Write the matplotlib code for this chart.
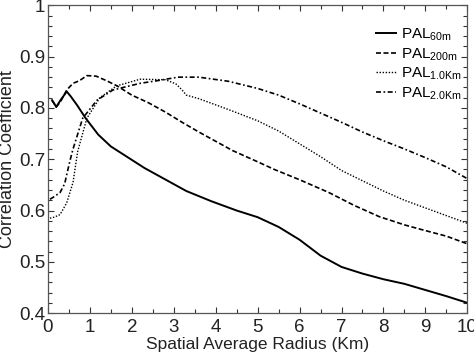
import matplotlib
matplotlib.use("Agg")
import matplotlib.pyplot as plt
from matplotlib.ticker import MultipleLocator

plt.rcParams['font.family'] = ['Liberation Sans', 'DejaVu Sans']
plt.rcParams['mathtext.fontset'] = 'custom'
plt.rcParams['mathtext.rm'] = 'Liberation Sans'
plt.rcParams['mathtext.it'] = 'Liberation Sans'

# PAL 60m (solid)
x_60m = [0.1, 0.2, 0.3, 0.45, 0.55, 0.7, 0.9, 1.2, 1.5, 1.9, 2.3, 2.7, 3.3, 3.9,
         4.5, 5.0, 5.5, 6.0, 6.5, 7.0, 7.5, 8.0, 8.5, 9.0, 9.5, 10.0]
y_60m = [0.815, 0.802, 0.815, 0.832, 0.822, 0.805, 0.78, 0.748, 0.725, 0.704,
         0.683, 0.665, 0.638, 0.618, 0.6, 0.587, 0.568, 0.543, 0.512, 0.49,
         0.477, 0.466, 0.457, 0.445, 0.433, 0.42]

# PAL 200m (dashed)
x_200m = [0.1, 0.2, 0.3, 0.45, 0.6, 0.75, 0.93, 1.15, 1.4, 1.65, 2.0, 2.4, 2.8,
          3.2, 3.6, 4.0, 4.4, 5.0, 5.4, 6.0, 6.7, 7.3, 7.9, 8.5, 8.9, 9.5, 10.0]
y_200m = [0.815, 0.802, 0.812, 0.835, 0.848, 0.853, 0.863, 0.862, 0.853, 0.843,
          0.825, 0.81, 0.792, 0.772, 0.753, 0.735, 0.717, 0.695, 0.68, 0.66,
          0.635, 0.61, 0.588, 0.572, 0.563, 0.55, 0.535]

# PAL 1.0Km (dotted)
x_1km = [0.05, 0.15, 0.29, 0.45, 0.6, 0.71, 0.93, 1.24, 1.64, 2.2, 2.8, 3.05,
         3.2, 3.3, 3.6, 4.3, 5.0, 5.5, 6.0, 6.5, 7.0, 7.5, 8.0, 8.5, 9.0, 9.5, 10.0]
y_1km = [0.585, 0.587, 0.592, 0.615, 0.655, 0.715, 0.78, 0.82, 0.843, 0.856,
         0.855, 0.847, 0.835, 0.825, 0.818, 0.797, 0.775, 0.755, 0.73, 0.705,
         0.678, 0.658, 0.638, 0.62, 0.605, 0.59, 0.575]

# PAL 2.0Km (dash-dot)
x_2km = [0.05, 0.15, 0.29, 0.4, 0.52, 0.6, 0.83, 1.17, 1.55, 2.2, 2.6, 3.1,
         3.6, 4.3, 5.0, 5.5, 6.0, 6.5, 7.0, 7.5, 8.0, 8.5, 9.0, 9.5, 10.0]
y_2km = [0.622, 0.627, 0.635, 0.652, 0.695, 0.72, 0.78, 0.815, 0.835, 0.848,
         0.853, 0.86, 0.86, 0.852, 0.838, 0.825, 0.808, 0.79, 0.772, 0.753,
         0.736, 0.72, 0.703, 0.685, 0.662]

fig = plt.figure(figsize=(4.74, 3.57), dpi=100)
ax = fig.add_axes([0.101, 0.123, 0.885, 0.862])

ax.plot(x_60m, y_60m, color='black', linestyle='-', linewidth=1.4,
        label='PAL$_{60m}$')
ax.plot(x_200m, y_200m, color='black', linestyle=(0, (3, 1.5)), linewidth=1.2,
        label='PAL$_{200m}$')
ax.plot(x_1km, y_1km, color='black', linestyle=(0, (1, 1.2)), linewidth=1.0,
        label='PAL$_{1.0Km}$')
ax.plot(x_2km, y_2km, color='black', linestyle=(0, (3, 1.5, 1, 1.5)), linewidth=1.2,
        label='PAL$_{2.0Km}$')

ax.set_xlim(0, 10)
ax.set_ylim(0.4, 1.0)
ax.xaxis.set_major_locator(MultipleLocator(1))
ax.xaxis.set_minor_locator(MultipleLocator(0.5))
ax.yaxis.set_minor_locator(MultipleLocator(0.02))
ax.set_yticks([0.4, 0.5, 0.6, 0.7, 0.8, 0.9, 1.0])
ax.set_yticklabels(['0.4', '0.5', '0.6', '0.7', '0.8', '0.9', '1'])
ax.tick_params(which='both', direction='in', top=True, right=True,
               labelsize=13.5, colors='#333333', labelcolor='#222222')
ax.tick_params(which='major', length=4, width=0.8)
ax.tick_params(which='minor', length=3, width=0.8)
ax.tick_params(axis='x', pad=4)
ax.tick_params(axis='y', pad=2)
for s in ax.spines.values():
    s.set_color('#555555')
    s.set_linewidth(0.9)

ax.set_xlabel('Spatial Average Radius (Km)', fontsize=12.5, labelpad=1, color='#222222')
ax.set_ylabel('Correlation Coefficient', fontsize=13, color='#222222')
ax.yaxis.set_label_coords(-0.075, 0.5)

ax.legend(loc='upper right', frameon=False, fontsize=11, handlelength=1.3,
          handletextpad=0.3, labelspacing=0.2, bbox_to_anchor=(1.02, 0.975))

fig.savefig('out.png', dpi=100)
